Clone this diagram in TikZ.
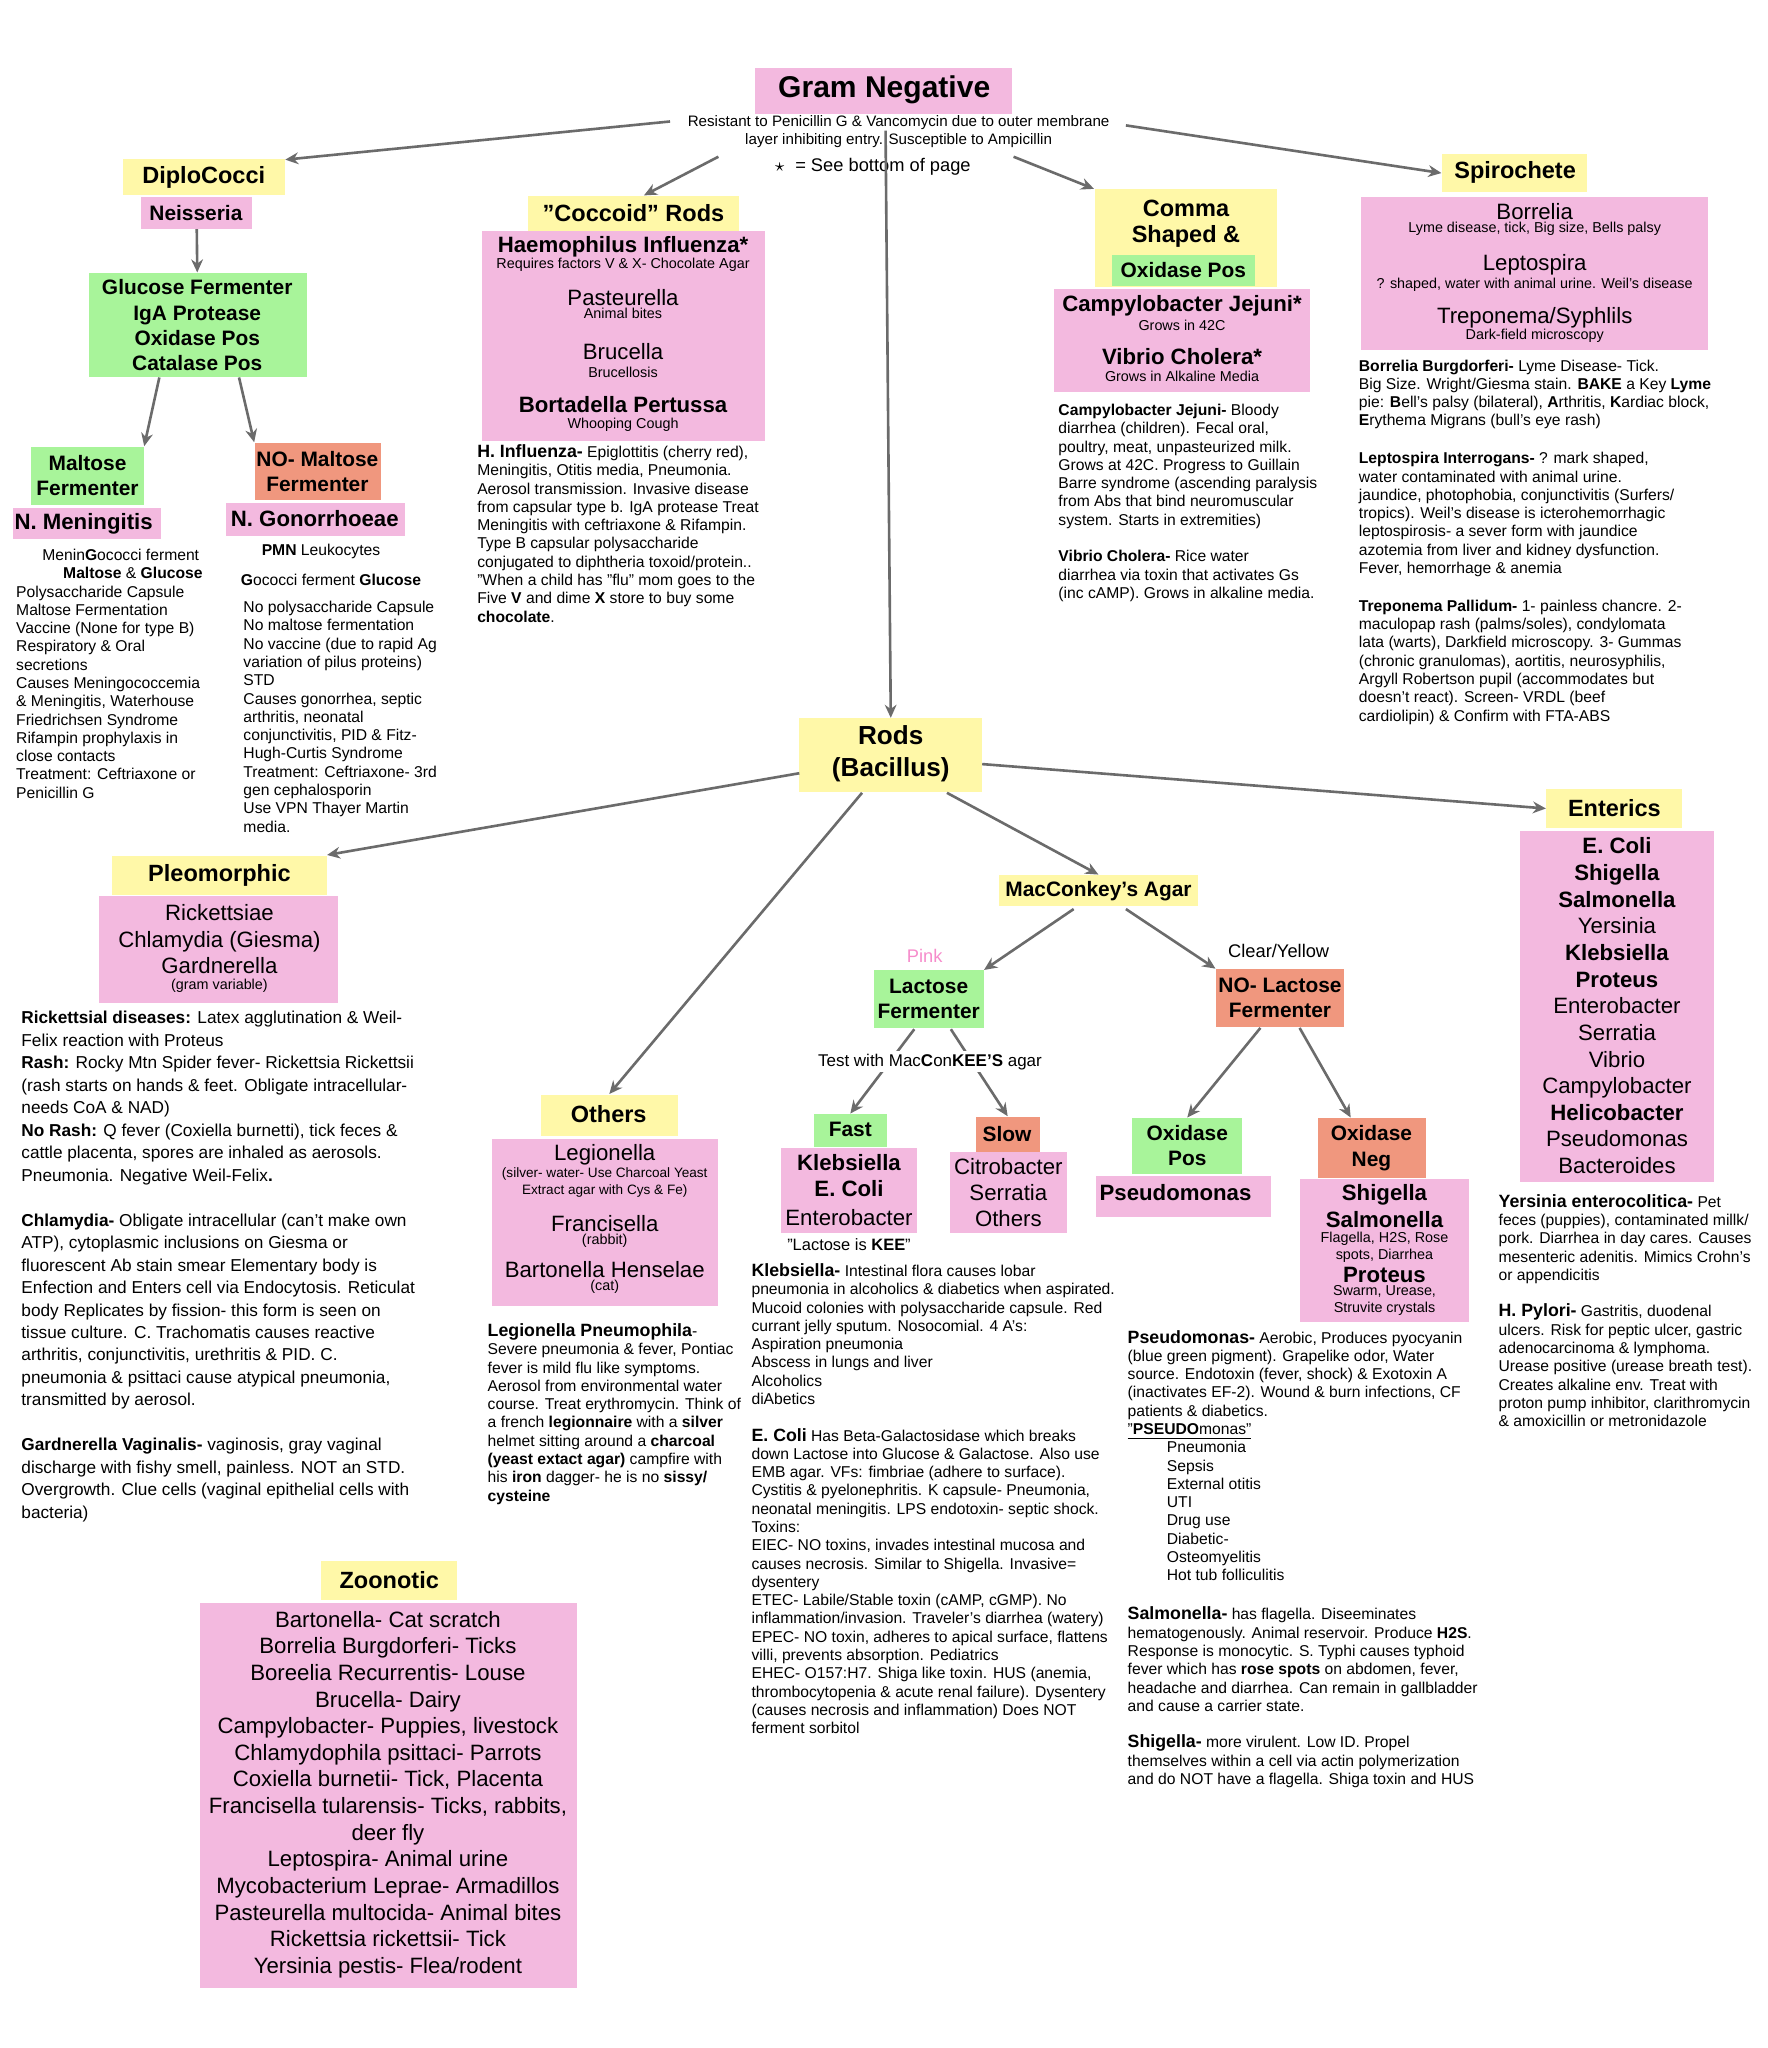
\documentclass[tikz,border=0pt]{standalone}
\usepackage{fontspec}
\setmainfont{Liberation Sans}
\usetikzlibrary{fit,arrows.meta}
\definecolor{pk}{HTML}{F3B9DF}
\definecolor{yl}{HTML}{FFF8A8}
\definecolor{gr}{HTML}{A8F49A}
\definecolor{sa}{HTML}{F0977E}
\definecolor{ar}{HTML}{6B6B6B}
\newcommand\fs[2]{\fontsize{#1}{#2}\selectfont}
\tikzset{
 bx/.style={inner sep=0pt, draw=none},
 arr/.style={draw=ar, line width=1pt, -{Stealth[length=5pt,width=4.5pt]}},
 body/.style={font=\fs{6}{7}, align=left, inner sep=0pt, anchor=north west},
 bodyb/.style={font=\fs{6.6}{8.6}, align=left, inner sep=0pt, anchor=north west},
 hd/.style={font=\fs{9}{10}\bfseries, align=center, inner sep=0pt},
 gt/.style={font=\fs{8}{9.7}\bfseries, align=center, inner sep=0pt},
 pt/.style={font=\fs{8.5}{10}, align=center, inner sep=0pt},
 ptb/.style={font=\fs{8.5}{10}\bfseries, align=center, inner sep=0pt},
 sm/.style={font=\fs{5.5}{6.5}, align=center, inner sep=0pt},
}
\begin{document}
\begin{tikzpicture}[x=0.5pt,y=-0.5pt]
\useasboundingbox (0,0) rectangle (1353,1568);
% ---------- title
\node[bx,fill=pk,fit={(578,52)(775,87)}] (gn) {};
\node[font=\fs{11.5}{13}\bfseries,inner sep=0] (gnt) at (677,69) {Gram Negative};
\node[font=\fs{5.8}{7},align=center,inner sep=0] (gns) at (688,101) {Resistant to Penicillin G \& Vancomycin due to outer membrane\\layer inhibiting entry. Susceptible to Ampicillin};
\node[font=\fs{7}{8},inner sep=0] (star) at (668,128) {$\star$\ \ = See bottom of page};
\coordinate (a1) at (513,93); \coordinate (a2) at (550,120); \coordinate (a3) at (678,100);
\coordinate (a4) at (776,120); \coordinate (a5) at (862,96);
% ---------- Diplococci
\node[bx,fill=yl,fit={(94,122)(218,149)}] (dip) {};
\node[hd] at (156,136) {DiploCocci};
\node[bx,fill=pk,fit={(108,151)(193,175)}] (nei) {};
\node[gt] at (150,163) {Neisseria};
\node[bx,fill=gr,fit={(68,209)(235,289)}] (glu) {};
\node[gt] at (151,249) {Glucose Fermenter\\IgA Protease\\Oxidase Pos\\Catalase Pos};
\node[bx,fill=gr,fit={(24,342)(110,387)}] (mal) {};
\node[gt] at (67,364) {Maltose\\Fermenter};
\node[bx,fill=pk,fit={(10,389)(123,413)}] (nmen) {};
\node[gt,font=\fs{8.5}{10}\bfseries] at (64,401) {N. Meningitis};
\node[bx,fill=sa,fit={(195,339)(292,383)}] (nomal) {};
\node[gt] at (243,361) {NO- Maltose\\Fermenter};
\node[bx,fill=pk,fit={(173,385)(310,410)}] (ngon) {};
\node[gt,font=\fs{8.5}{10}\bfseries] at (241,397) {N. Gonorrhoeae};
\draw[arr] (nei) -- (glu);
\draw[arr] (122,289) -- (mal.north east);
\draw[arr] (183,289) -- (nomal.north west);
\node[body] (tmen) at (12,420) {\hspace*{10pt}Menin\textbf{G}ococci ferment\\\hspace*{18pt}\textbf{Maltose} \& \textbf{Glucose}\\Polysaccharide Capsule\\Maltose Fermentation\\Vaccine (None for type B)\\Respiratory \& Oral\\secretions\\Causes Meningococcemia\\\& Meningitis, Waterhouse\\Friedrichsen Syndrome\\Rifampin prophylaxis in\\close contacts\\Treatment: Ceftriaxone or\\Penicillin G};
\node[body] (tpmn) at (200,416) {\textbf{PMN} Leukocytes};
\node[body] (tgo1) at (184,439) {\textbf{G}ococci ferment \textbf{Glucose}};
\node[body] (tgon) at (186,460) {No polysaccharide Capsule\\No maltose fermentation\\No vaccine (due to rapid Ag\\variation of pilus proteins)\\STD\\Causes gonorrhea, septic\\arthritis, neonatal\\conjunctivitis, PID \& Fitz-\\Hugh-Curtis Syndrome\\Treatment: Ceftriaxone- 3rd\\gen cephalosporin\\Use VPN Thayer Martin\\media.};
% ---------- Coccoid rods
\node[bx,fill=yl,fit={(404,150)(566,177)}] (coc) {};
\node[hd] at (485,163) {"Coccoid" Rods};
\node[bx,fill=pk,fit={(369,177)(586,338)}] (cocb) {};
\node[ptb] at (477,189) {Haemophilus Influenza*};
\node[sm] at (477,203) {Requires factors V \& X- Chocolate Agar};
\node[pt] at (477,228) {Pasteurella};
\node[sm] at (477,240) {Animal bites};
\node[pt] at (477,269) {Brucella};
\node[sm] at (477,285) {Brucellosis};
\node[ptb] at (477,310) {Bortadella Pertussa};
\node[sm] at (477,325) {Whooping Cough};
\node[body] (thi) at (365,340) {\textbf{\fs{6.8}{7}H. Influenza-} Epiglottitis (cherry red),\\Meningitis, Otitis media, Pneumonia.\\Aerosol transmission. Invasive disease\\from capsular type b. IgA protease Treat\\Meningitis with ceftriaxone \& Rifampin.\\Type B capsular polysaccharide\\conjugated to diphtheria toxoid/protein..\\"When a child has "flu" mom goes to the\\Five \textbf{V} and dime \textbf{X} store to buy some\\\textbf{chocolate}.};
% ---------- Comma
\node[bx,fill=yl,fit={(838,145)(978,220)}] (com) {};
\node[hd] at (908,171) {Comma\\Shaped \&};
\node[bx,fill=gr,fit={(851,195)(961,219)}] (oxp1) {};
\node[gt] at (906,207) {Oxidase Pos};
\node[bx,fill=pk,fit={(807,221)(1003,300)}] (cvb) {};
\node[ptb] at (905,234) {Campylobacter Jejuni*};
\node[sm] at (905,249) {Grows in 42C};
\node[ptb] at (905,273) {Vibrio Cholera*};
\node[sm] at (905,288) {Grows in Alkaline Media};
\node[body] (tcj) at (810,309) {\textbf{Campylobacter Jejuni-} Bloody\\diarrhea (children). Fecal oral,\\poultry, meat, unpasteurized milk.\\Grows at 42C. Progress to Guillain\\Barre syndrome (ascending paralysis\\from Abs that bind neuromuscular\\system. Starts in extremities)\\[7pt]\textbf{Vibrio Cholera-} Rice water\\diarrhea via toxin that activates Gs\\(inc cAMP). Grows in alkaline media.};
% ---------- Spirochete
\node[bx,fill=yl,fit={(1104,118)(1215,147)}] (spi) {};
\node[hd] at (1160,132) {Spirochete};
\node[bx,fill=pk,fit={(1042,151)(1308,268)}] (spib) {};
\node[pt] at (1175,162) {Borrelia};
\node[sm] at (1175,175) {Lyme disease, tick, Big size, Bells palsy};
\node[pt] at (1175,203) {Leptospira};
\node[sm] at (1175,218) {? shaped, water with animal urine. Weil's disease};
\node[pt] at (1175,243) {Treponema/Syphlils};
\node[sm] at (1175,257) {Dark-field microscopy};
\node[body] (tspi) at (1040,275) {\textbf{Borrelia Burgdorferi-} Lyme Disease- Tick.\\Big Size. Wright/Giesma stain. \textbf{BAKE} a Key \textbf{Lyme}\\pie: \textbf{B}ell's palsy (bilateral), \textbf{A}rthritis, \textbf{K}ardiac block,\\\textbf{E}rythema Migrans (bull's eye rash)\\[7.5pt]\textbf{Leptospira Interrogans-} ? mark shaped,\\water contaminated with animal urine.\\jaundice, photophobia, conjunctivitis (Surfers/\\tropics). Weil's disease is icterohemorrhagic\\leptospirosis- a sever form with jaundice\\azotemia from liver and kidney dysfunction.\\Fever, hemorrhage \& anemia\\[7.5pt]\textbf{Treponema Pallidum-} 1- painless chancre. 2-\\maculopap rash (palms/soles), condylomata\\lata (warts), Darkfield microscopy. 3- Gummas\\(chronic granulomas), aortitis, neurosyphilis,\\Argyll Robertson pupil (accommodates but\\doesn't react). Screen- VRDL (beef\\cardiolipin) \& Confirm with FTA-ABS};
% ---------- Rods
\node[bx,fill=yl,fit={(612,550)(752,606)}] (rod) {};
\node[font=\fs{10}{12}\bfseries,align=center,inner sep=0] at (682,577) {Rods\\(Bacillus)};
\draw[arr] (a1) -- (dip.12);
\draw[arr] (a2) -- (coc.60);
\draw[arr] (a3) -- (rod.north);
\draw[arr] (a4) -- (com.north west);
\draw[arr] (a5) -- (spi.west);
% ---------- Pleomorphic
\node[bx,fill=yl,fit={(86,655)(250,685)}] (ple) {};
\node[hd] at (168,670) {Pleomorphic};
\node[bx,fill=pk,fit={(76,686)(259,768)}] (pleb) {};
\node[pt] at (168,719) {Rickettsiae\\Chlamydia (Giesma)\\Gardnerella};
\node[sm] at (168,755) {(gram variable)};
\node[bodyb] (tple) at (16,774) {\textbf{Rickettsial diseases:} Latex agglutination \& Weil-\\Felix reaction with Proteus\\\textbf{Rash:} Rocky Mtn Spider fever- Rickettsia Rickettsii\\(rash starts on hands \& feet. Obligate intracellular-\\needs CoA \& NAD)\\\textbf{No Rash:} Q fever (Coxiella burnetti), tick feces \&\\cattle placenta, spores are inhaled as aerosols.\\Pneumonia. Negative Weil-Felix\textbf{.}\\[8.6pt]\textbf{Chlamydia-} Obligate intracellular (can't make own\\ATP), cytoplasmic inclusions on Giesma or\\fluorescent Ab stain smear Elementary body is\\Enfection and Enters cell via Endocytosis. Reticulat\\body Replicates by fission- this form is seen on\\tissue culture. C. Trachomatis causes reactive\\arthritis, conjunctivitis, urethritis \& PID. C.\\pneumonia \& psittaci cause atypical pneumonia,\\transmitted by aerosol.\\[8.6pt]\textbf{Gardnerella Vaginalis-} vaginosis, gray vaginal\\discharge with fishy smell, painless. NOT an STD.\\Overgrowth. Clue cells (vaginal epithelial cells with\\bacteria)};
% ---------- Zoonotic
\node[bx,fill=yl,fit={(246,1195)(350,1225)}] (zoo) {};
\node[hd] at (298,1210) {Zoonotic};
\node[bx,fill=pk,fit={(153,1227)(442,1522)}] (zoob) {};
\node[font=\fs{8.5}{10.2},align=center,inner sep=0,anchor=north] (zool) at (297,1233) {Bartonella- Cat scratch\\Borrelia Burgdorferi- Ticks\\Boreelia Recurrentis- Louse\\Brucella- Dairy\\Campylobacter- Puppies, livestock\\Chlamydophila psittaci- Parrots\\Coxiella burnetii- Tick, Placenta\\Francisella tularensis- Ticks, rabbits,\\deer fly\\Leptospira- Animal urine\\Mycobacterium Leprae- Armadillos\\Pasteurella multocida- Animal bites\\Rickettsia rickettsii- Tick\\Yersinia pestis- Flea/rodent};
% ---------- Others
\node[bx,fill=yl,fit={(414,838)(519,870)}] (oth) {};
\node[hd] at (466,853) {Others};
\node[bx,fill=pk,fit={(377,872)(550,1000)}] (othb) {};
\node[pt] at (463,884) {Legionella};
\node[sm,font=\fs{5.2}{6.5}] at (463,905) {(silver- water- Use Charcoal Yeast\\Extract agar with Cys \& Fe)};
\node[pt] at (463,937) {Francisella};
\node[sm] at (463,950) {(rabbit)};
\node[pt] at (463,972) {Bartonella Henselae};
\node[sm] at (463,985) {(cat)};
\node[body] (tleg) at (373,1013) {\textbf{\fs{6.8}{7}Legionella Pneumophila}-\\Severe pneumonia \& fever, Pontiac\\fever is mild flu like symptoms.\\Aerosol from environmental water\\course. Treat erythromycin. Think of\\a french \textbf{legionnaire} with a \textbf{silver}\\helmet sitting around a \textbf{charcoal}\\\textbf{(yeast extact agar)} campfire with\\his \textbf{iron} dagger- he is no \textbf{sissy/}\\\textbf{cysteine}};
% ---------- MacConkey
\node[bx,fill=yl,fit={(765,670)(917,694)}] (mac) {};
\node[gt] at (841,682) {MacConkey's Agar};
\node[font=\fs{7}{8},text=magenta!45,inner sep=0] (pink) at (708,732) {Pink};
\node[font=\fs{7}{8},inner sep=0] (clr) at (979,728) {Clear/Yellow};
\node[bx,fill=gr,fit={(669,743)(753,787)}] (lac) {};
\node[gt] at (711,765) {Lactose\\Fermenter};
\node[bx,fill=sa,fit={(931,742)(1029,786)}] (nlac) {};
\node[gt] at (980,764) {NO- Lactose\\Fermenter};
\draw[arr] (822,696) -- (lac.north east);
\draw[arr] (862,696) -- (nlac.north west);
\node[bx,fill=gr,fit={(623,853)(679,878)}] (fast) {};
\node[gt] at (651,865) {Fast};
\node[bx,fill=pk,fit={(598,879)(702,944)}] (kec) {};
\node[ptb] at (650,900) {Klebsiella\\E. Coli};
\node[pt] at (650,932) {Enterobacter};
\node[font=\fs{6.3}{7},inner sep=0] (kee) at (650,953) {"Lactose is \textbf{KEE}"};
\node[bx,fill=sa,fit={(747,855)(796,882)}] (slow) {};
\node[gt] at (771,868) {Slow};
\node[bx,fill=pk,fit={(727,882)(817,944)}] (slb) {};
\node[pt] at (772,913) {Citrobacter\\Serratia\\Others};
\draw[arr] (700,788) -- (fast.north);
\draw[arr] (728,788) -- (slow.north);
\node[font=\fs{6.5}{7.5},inner sep=1pt,fill=white] (test) at (712,813) {Test with Mac\textbf{C}on\textbf{KEE'S} agar};
\node[bx,fill=gr,fit={(867,856)(951,899)}] (oxp) {};
\node[gt] at (909,877) {Oxidase\\Pos};
\node[bx,fill=pk,fit={(839,900)(973,932)}] (pse) {};
\node[gt,font=\fs{8.5}{10}\bfseries] at (900,913) {Pseudomonas};
\node[bx,fill=sa,fit={(1009,856)(1092,902)}] (oxn) {};
\node[gt] at (1050,879) {Oxidase\\Neg};
\node[bx,fill=pk,fit={(995,903)(1125,1012)}] (ssp) {};
\node[ptb] at (1060,915) {Shigella};
\node[ptb] at (1060,934) {Salmonella};
\node[sm] at (1060,955) {Flagella, H2S, Rose\\spots, Diarrhea};
\node[ptb] at (1060,976) {Proteus};
\node[sm] at (1060,996) {Swarm, Urease,\\Struvite crystals};
\draw[arr] (965,787) -- (oxp.north);
\draw[arr] (995,787) -- (oxn.125);
\node[body] (tkl) at (575,967) {\textbf{\fs{6.8}{7}Klebsiella-} Intestinal flora causes lobar\\pneumonia in alcoholics \& diabetics when aspirated.\\Mucoid colonies with polysaccharide capsule. Red\\currant jelly sputum. Nosocomial. 4 A's:\\Aspiration pneumonia\\Abscess in lungs and liver\\Alcoholics\\diAbetics\\[7pt]\textbf{\fs{6.8}{7}E. Coli} Has Beta-Galactosidase which breaks\\down Lactose into Glucose \& Galactose. Also use\\EMB agar. VFs: fimbriae (adhere to surface).\\Cystitis \& pyelonephritis. K capsule- Pneumonia,\\neonatal meningitis. LPS endotoxin- septic shock.\\Toxins:\\EIEC- NO toxins, invades intestinal mucosa and\\causes necrosis. Similar to Shigella. Invasive=\\dysentery\\ETEC- Labile/Stable toxin (cAMP, cGMP). No\\inflammation/invasion. Traveler's diarrhea (watery)\\EPEC- NO toxin, adheres to apical surface, flattens\\villi, prevents absorption. Pediatrics\\EHEC- O157:H7. Shiga like toxin. HUS (anemia,\\thrombocytopenia \& acute renal failure). Dysentery\\(causes necrosis and inflammation) Does NOT\\ferment sorbitol};
\node[body] (tps) at (863,1018) {\textbf{\fs{6.8}{7}Pseudomonas-} Aerobic, Produces pyocyanin\\(blue green pigment). Grapelike odor, Water\\source. Endotoxin (fever, shock) \& Exotoxin A\\(inactivates EF-2). Wound \& burn infections, CF\\patients \& diabetics.\\\underline{"\textbf{PSEUDO}monas"}\\\hspace*{15pt}Pneumonia\\\hspace*{15pt}Sepsis\\\hspace*{15pt}External otitis\\\hspace*{15pt}UTI\\\hspace*{15pt}Drug use\\\hspace*{15pt}Diabetic-\\\hspace*{15pt}Osteomyelitis\\\hspace*{15pt}Hot tub folliculitis};
\node[body] (tsal) at (863,1230) {\textbf{\fs{6.8}{7}Salmonella-} has flagella. Diseeminates\\hematogenously. Animal reservoir. Produce \textbf{H2S}.\\Response is monocytic. S. Typhi causes typhoid\\fever which has \textbf{rose spots} on abdomen, fever,\\headache and diarrhea. Can remain in gallbladder\\and cause a carrier state.\\[7pt]\textbf{\fs{6.8}{7}Shigella-} more virulent. Low ID. Propel\\themselves within a cell via actin polymerization\\and do NOT have a flagella. Shiga toxin and HUS};
% ---------- Enterics
\node[bx,fill=yl,fit={(1184,604)(1288,634)}] (ent) {};
\node[hd] at (1236,619) {Enterics};
\node[bx,fill=pk,fit={(1164,636)(1312,905)}] (entb) {};
\node[font=\fs{8.5}{10.2},align=center,inner sep=0,anchor=north] (entl) at (1238,641) {\textbf{E. Coli}\\\textbf{Shigella}\\\textbf{Salmonella}\\Yersinia\\\textbf{Klebsiella}\\\textbf{Proteus}\\Enterobacter\\Serratia\\Vibrio\\Campylobacter\\\textbf{Helicobacter}\\Pseudomonas\\Bacteroides};
\node[body] (tyer) at (1147,914) {\textbf{\fs{6.8}{7}Yersinia enterocolitica-} Pet\\feces (puppies), contaminated millk/\\pork. Diarrhea in day cares. Causes\\mesenteric adenitis. Mimics Crohn's\\or appendicitis\\[7pt]\textbf{\fs{6.8}{7}H. Pylori-} Gastritis, duodenal\\ulcers. Risk for peptic ulcer, gastric\\adenocarcinoma \& lymphoma.\\Urease positive (urease breath test).\\Creates alkaline env. Treat with\\proton pump inhibitor, clarithromycin\\\& amoxicillin or metronidazole};
% ---------- Rods arrows
\draw[arr] (612,592) -- (ple.north east);
\draw[arr] (660,607) -- (oth.north);
\draw[arr] (725,607) -- (mac.north);
\draw[arr] (752,585) -- (ent.west);
\end{tikzpicture}
\end{document}
